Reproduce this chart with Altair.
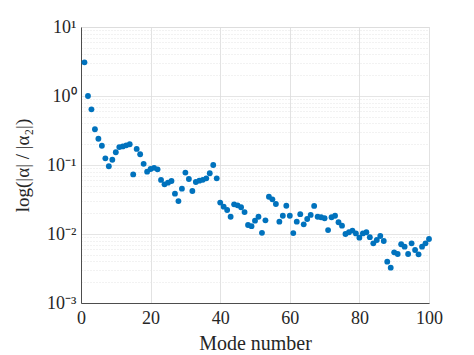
import altair as alt
import pandas as pd

mode = list(range(1, 101))
ratio = [
    3.08, 1.0, 0.64, 0.33, 0.24, 0.19, 0.125, 0.096, 0.119, 0.153,
    0.182, 0.186, 0.193, 0.2, 0.073, 0.171, 0.143, 0.104, 0.080, 0.0875,
    0.091, 0.0865, 0.0607, 0.0525, 0.0554, 0.0586, 0.0384, 0.030, 0.0454, 0.0776,
    0.0627, 0.042, 0.0567, 0.0593, 0.061, 0.064, 0.0759, 0.1, 0.064, 0.0285,
    0.0249, 0.0223, 0.0178, 0.0269, 0.026, 0.0244, 0.0208, 0.0135, 0.013, 0.0156,
    0.0178, 0.0104, 0.0158, 0.0347, 0.0318, 0.0272, 0.0151, 0.0184, 0.0257, 0.0184,
    0.0103, 0.0151, 0.0194, 0.0138, 0.0165, 0.0189, 0.0255, 0.0178, 0.0175, 0.0169,
    0.0114, 0.0175, 0.0184, 0.0148, 0.0132, 0.0100, 0.0106, 0.0112, 0.0102, 0.00885,
    0.0102, 0.0106, 0.00900, 0.00733, 0.00819, 0.00935, 0.00792, 0.00397, 0.00325, 0.00543,
    0.00513, 0.0071, 0.00655, 0.00513, 0.00733, 0.00586, 0.00508, 0.00655, 0.00733, 0.00847,
]

x_ticks = [0, 20, 40, 60, 80, 100]
y_major = [0.001, 0.01, 0.1, 1, 10]
y_minor = [k * m for m in [0.001, 0.01, 0.1, 1] for k in range(2, 10)]
y_ticks = y_major + y_minor

df = pd.DataFrame({"mode": mode, "ratio": ratio})

FONT = "Liberation Serif"
AX = "#4d4d4d"

major_test = "abs(log(datum.value)/LN10 - round(log(datum.value)/LN10)) < 0.001"
label_expr = (
    "(" + major_test + ") ? "
    "('10' + (round(log(datum.value)/LN10) < 0 ? '\u207b' : '') + "
    "(abs(round(log(datum.value)/LN10)) == 0 ? '\u2070' : "
    "abs(round(log(datum.value)/LN10)) == 1 ? '\u00b9' : "
    "abs(round(log(datum.value)/LN10)) == 2 ? '\u00b2' : '\u00b3')) : ''"
)

x_axis = alt.Axis(
    values=x_ticks, title="Mode number", grid=True, gridColor="#e2e2e2",
    ticks=False, domainColor=AX, labelFont=FONT, labelFontSize=18,
    labelColor="#262626", labelPadding=6, titleFont=FONT, titleFontSize=20,
    titleFontWeight="normal", titleColor="#262626", titleY=46,
    titleBaseline="alphabetic", labelFlush=False,
)

y_axis = alt.Axis(
    values=y_ticks, labelExpr=label_expr, title="log(|\u03b1| / |\u03b1\u2082|)",
    grid=True,
    gridColor={"condition": {"test": major_test, "value": "#dcdcdc"}, "value": "#e4e4e4"},
    gridDash={"condition": {"test": major_test, "value": [1, 0]}, "value": [1, 2]},
    ticks=False, domainColor=AX, labelFont=FONT, labelFontSize=18,
    labelColor="#262626", labelPadding=5, labelFlush=False,
    titleFont=FONT, titleFontSize=19, titleFontWeight="normal",
    titleColor="#262626", titleX=-59, titleY=138, titleAngle=270,
    titleBaseline="middle", titleAlign="center",
)

chart = alt.Chart(df).mark_circle(size=34, color="#0072BD", opacity=1).encode(
    x=alt.X("mode:Q", scale=alt.Scale(domain=[0, 100], nice=False, zero=False), axis=x_axis),
    y=alt.Y("ratio:Q", scale=alt.Scale(type="log", domain=[0.001, 10], nice=False), axis=y_axis),
).properties(
    width=348, height=276,
    autosize=alt.AutoSizeParams(type="none"),
    padding={"left": 81, "top": 27, "right": 45, "bottom": 52},
).configure_view(stroke=AX, strokeWidth=1).configure(background="white")

chart.save("out.html", embed_options={"renderer": "svg", "actions": False})
